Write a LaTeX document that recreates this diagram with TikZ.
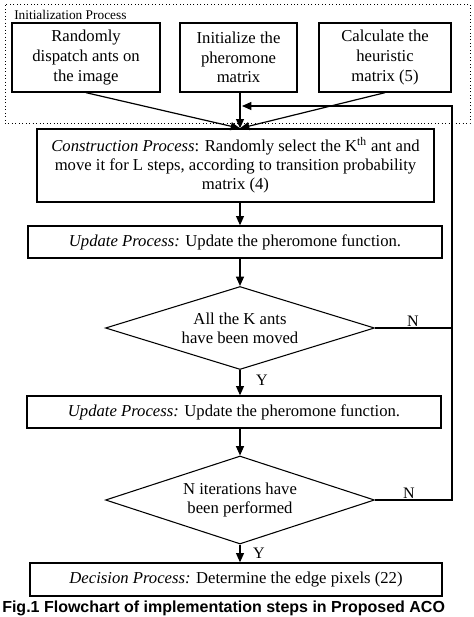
\documentclass[tikz,border=0pt]{standalone}
\usepackage{fontspec}
\setmainfont{Liberation Serif}
\newfontfamily\capfont{Liberation Sans}
\usetikzlibrary{shapes.geometric,arrows.meta}
\newcommand{\px}{0.75pt}
\tikzset{
  procbox/.style={draw, line width=1pt, inner sep=0pt, align=center,
    font=\fontsize{12.5}{14.8}\selectfont},
  decision/.style={draw, diamond, line width=0.8pt, inner sep=0pt, align=center,
    aspect=3.24, font=\fontsize{12.5}{14.5}\selectfont},
  flowlabel/.style={inner sep=0pt, font=\fontsize{12}{14}\selectfont},
  flow/.style={line width=0.9pt},
  arr/.style={line width=0.9pt, -{Triangle[length=7pt,width=6pt]}}
}
\begin{document}
\begin{tikzpicture}[x=\px, y=-\px]
\useasboundingbox (0,0) rectangle (474,617);
\node (init) [draw, dotted, line width=0.6pt, minimum width=465*\px, minimum height=119*\px] at (237.5,63.5) {};
\node (initlabel) [anchor=west, inner sep=0pt, font=\fontsize{10}{11}\selectfont] at (14,15) {Initialization Process};
\node (dispatch) [procbox, minimum width=148*\px, minimum height=69*\px] at (86,57.5) {Randomly\\dispatch ants on\\the image};
\node (pherinit) [procbox, minimum width=117*\px, minimum height=69*\px] at (238.5,57.5) {Initialize the\\pheromone\\matrix};
\node (heuristic) [procbox, minimum width=132*\px, minimum height=69*\px] at (385,57.5) {Calculate the\\heuristic\\matrix (5)};
\node (construct) [procbox, minimum width=397*\px, minimum height=73*\px, font=\fontsize{12.5}{14.3}\selectfont] at (235.5,165.5) {\textit{Construction Process}: Randomly select the K\textsuperscript{th} ant and\\move it for L steps, according to transition probability\\matrix (4)};
\node (update1) [procbox, minimum width=414*\px, minimum height=32*\px] at (235,242) {\textit{Update Process:} Update the pheromone function.};
\node (allmoved) [decision, minimum width=269*\px, minimum height=83*\px] at (240,328) {All the K ants\\have been moved};
\node (update2) [procbox, minimum width=414*\px, minimum height=32*\px] at (234,412) {\textit{Update Process:} Update the pheromone function.};
\node (iterdone) [decision, minimum width=269*\px, minimum height=88*\px] at (240,500) {N iterations have\\been performed};
\node (decide) [procbox, minimum width=412*\px, minimum height=33*\px] at (236,579.5) {\textit{Decision Process:} Determine the edge pixels (22)};
\node (ylabel1) [flowlabel] at (262,380) {Y};
\node (ylabel2) [flowlabel] at (259,553) {Y};
\node (nlabel1) [flowlabel] at (413,321) {N};
\node (nlabel2) [flowlabel] at (409,493) {N};
\node (caption) [anchor=base west, inner sep=0pt, font=\capfont\bfseries\fontsize{12}{14}\selectfont] at (2,612.5) {Fig.1 Flowchart of implementation steps in Proposed ACO};
\coordinate (merge) at (construct.north -| allmoved.north);
\coordinate (fbtop) at (452,106);
\coordinate (fbtip) at (242,106);
\draw [arr] (dispatch.south) -- (merge);
\draw [arr] (pherinit.south -| merge) -- (merge);
\draw [arr] (heuristic.south) -- (merge);
\draw [arr] (construct.south -| merge) -- (update1.north -| merge);
\draw [arr] (update1.south -| merge) -- (allmoved.north);
\draw [arr] (allmoved.south) -- (update2.north -| allmoved.south);
\draw [arr] (update2.south -| merge) -- (iterdone.north);
\draw [arr] (iterdone.south) -- (decide.north -| iterdone.south);
\draw [flow] (allmoved.east) -- (allmoved.east -| fbtop);
\draw [arr] (iterdone.east) -| (fbtop) -- (fbtip);
\end{tikzpicture}
\end{document}
